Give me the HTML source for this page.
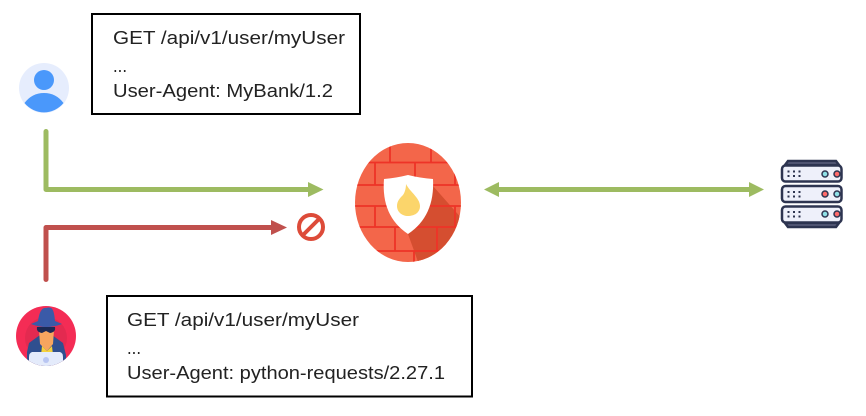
<!DOCTYPE html>
<html><head><meta charset="utf-8"><style>html,body{margin:0;padding:0;background:#fff}svg{display:block}text{font-family:"Liberation Sans",sans-serif;font-size:18px;fill:#222}</style></head>
<body>
<svg width="866" height="416" viewBox="0 0 866 416" xmlns="http://www.w3.org/2000/svg">
<rect width="866" height="416" fill="#fff"/>
<!-- boxes -->
<rect x="92" y="14" width="268" height="100" fill="#fff" stroke="#000" stroke-width="2"/>
<text x="113" y="44" textLength="232" lengthAdjust="spacingAndGlyphs">GET /api/v1/user/myUser</text>
<text x="113" y="72" textLength="14" lengthAdjust="spacingAndGlyphs">...</text>
<text x="113" y="97" textLength="220" lengthAdjust="spacingAndGlyphs">User-Agent: MyBank/1.2</text>
<rect x="107" y="296" width="365" height="100.500" fill="#fff" stroke="#000" stroke-width="2"/>
<text x="127" y="326" textLength="232" lengthAdjust="spacingAndGlyphs">GET /api/v1/user/myUser</text>
<text x="127" y="354" textLength="14" lengthAdjust="spacingAndGlyphs">...</text>
<text x="127" y="379" textLength="318" lengthAdjust="spacingAndGlyphs">User-Agent: python-requests/2.27.1</text>
<!-- user -->
<circle cx="44" cy="88" r="25" fill="#e6edfd"/>
<circle cx="44" cy="80" r="10" fill="#4a98fb"/>
<path d="M24.500 103 Q32 93 44 93 Q56 93 63.500 103 A25 25 0 0 1 24.500 103Z" fill="#4a98fb"/>
<!-- hacker -->
<clipPath id="h"><circle cx="46" cy="336" r="30"/></clipPath>
<circle cx="46" cy="336" r="30" fill="#f42c55"/>
<circle cx="46" cy="338" r="21" fill="#e32a50"/>
<g clip-path="url(#h)">
<path d="M27 352 L29 343 L40 335 H52 L63 343 L66 355 L66 366 H27Z" fill="#2f4f8f"/>
<path d="M39 330 H54 L53 344 L47 351 L40 344Z" fill="#f6a55f"/>
<path d="M42 346 L47 351 L52 346 L53 355 H41Z" fill="#f5d23c"/>
<path d="M38 321 Q40 307 46 308 Q49 307 51 308 Q54 309 55 321 L62 324 Q46 330 31 324Z" fill="#3a5aa8"/>
<path d="M37 327 H55 Q56 332 50 333 L46 331 L42 333 Q36 332 37 327Z" fill="#1c2a55"/>
<path d="M32 352 H60 Q63 353 63 357 V366 H29 V357 Q29 353 32 352Z" fill="#e4ebfb"/>
<circle cx="46" cy="360" r="3" fill="#b9c6f2"/>
</g>
<!-- connectors -->
<path d="M46 131.500 V189.500 H311" fill="none" stroke="#9dbb61" stroke-width="5" stroke-linejoin="round"/>
<circle cx="46" cy="131.500" r="2.500" fill="#9dbb61"/>
<path d="M308 182 L323.500 189.500 L308 197Z" fill="#9dbb61"/>
<path d="M46 279.500 V227.500 H275" fill="none" stroke="#c0504d" stroke-width="5" stroke-linejoin="round"/>
<circle cx="46" cy="279.500" r="2.500" fill="#c0504d"/>
<path d="M271 220 L287 227.500 L271 235Z" fill="#c0504d"/>
<path d="M495 189.500 H753" stroke="#9dbb61" stroke-width="5"/>
<path d="M499 182 L484 189.500 L499 197Z M749 182 L764 189.500 L749 197Z" fill="#9dbb61"/>
<!-- ban -->
<circle cx="311" cy="227" r="12" fill="none" stroke="#dd4b39" stroke-width="4"/>
<path d="M303 235 L319 219" stroke="#dd4b39" stroke-width="4"/>
<!-- firewall -->
<clipPath id="c"><ellipse cx="408" cy="202.500" rx="53" ry="59.500"/></clipPath>
<ellipse cx="408" cy="202.500" rx="53" ry="59.500" fill="#f3664a"/>
<g clip-path="url(#c)">
<path d="M433 186 L470 228 V270 H421 L408 234Z" fill="#d54e30"/>
<path d="M350 162.500 H470 M350 185 H470 M350 206 H470 M350 227 H470 M350 251 H470 M390 143 V162 M431 143 V162 M375 162 V185 M415 162 V185 M455 162 V185 M375 206 V227 M455 206 V227 M395 227 V251 M437 227 V251 M414 251 V270" stroke="#ee3327" stroke-width="1.800" fill="none"/>
</g>
<path d="M384 179 Q396 178 408 175 Q420 178 433 179 Q435 216 408 234 Q381 216 384 179Z" fill="#fff"/>
<path d="M406 184 C410 192 420 198 420 206 C420 213 414 216 408 216 C402 216 397 212 397 206 C397 201 400 198 403 195 C405 192 406 188 406 184Z" fill="#fbd56b"/>
<!-- server -->
<g stroke="#2d3450" stroke-width="2.500">
<path d="M785 165 L788 161 H836 L839 165Z" fill="#5b5e7c"/>
<path d="M785 223 L788 227 H836 L839 223Z" fill="#5b5e7c"/>
<rect x="782" y="165.500" width="59.500" height="16" rx="3.500" fill="#eef0fa"/>
<rect x="782" y="186" width="59.500" height="16" rx="3.500" fill="#eef0fa"/>
<rect x="782" y="206.500" width="59.500" height="16" rx="3.500" fill="#eef0fa"/>
</g>
<g stroke="#2d3450" stroke-width="1.500">
<circle cx="825" cy="174" r="3" fill="#8ee0e6"/><circle cx="837" cy="174" r="3" fill="#ff6b6b"/>
<circle cx="825" cy="194" r="3" fill="#ff6b6b"/><circle cx="837" cy="194" r="3" fill="#8ee0e6"/>
<circle cx="825" cy="214" r="3" fill="#8ee0e6"/><circle cx="837" cy="214" r="3" fill="#ff6b6b"/>
</g>
<g fill="#2d3450">
<rect x="787.500" y="170.500" width="2" height="2"/><rect x="793" y="170.500" width="2" height="2"/><rect x="798.500" y="170.500" width="2" height="2"/>
<rect x="787.500" y="175" width="2" height="2"/><rect x="793" y="175" width="2" height="2"/><rect x="798.500" y="175" width="2" height="2"/>
<rect x="787.500" y="191" width="2" height="2"/><rect x="793" y="191" width="2" height="2"/><rect x="798.500" y="191" width="2" height="2"/>
<rect x="787.500" y="195.500" width="2" height="2"/><rect x="793" y="195.500" width="2" height="2"/><rect x="798.500" y="195.500" width="2" height="2"/>
<rect x="787.500" y="211" width="2" height="2"/><rect x="793" y="211" width="2" height="2"/><rect x="798.500" y="211" width="2" height="2"/>
<rect x="787.500" y="215.500" width="2" height="2"/><rect x="793" y="215.500" width="2" height="2"/><rect x="798.500" y="215.500" width="2" height="2"/>
</g>
</svg>
</body></html>
